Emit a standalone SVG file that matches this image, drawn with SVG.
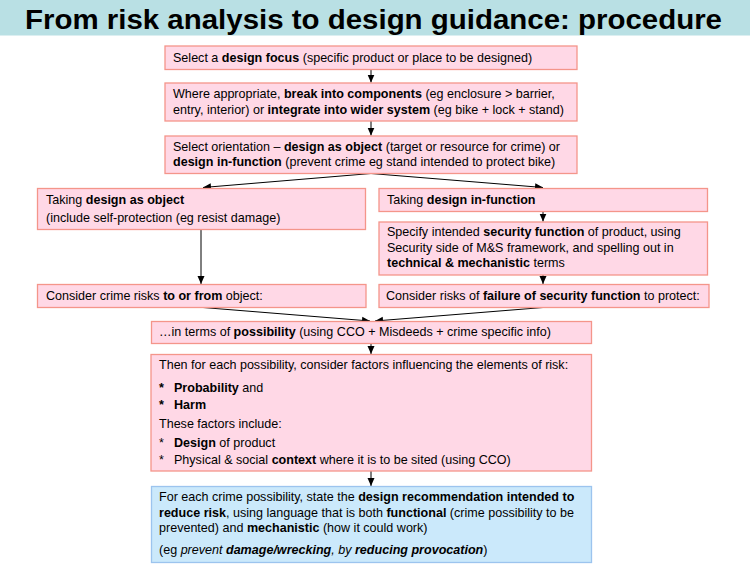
<svg xmlns="http://www.w3.org/2000/svg" width="750" height="566" viewBox="0 0 750 566">
<defs>
<marker id="ah" markerUnits="userSpaceOnUse" markerWidth="8" markerHeight="8" viewBox="0 0 8 8" refX="8" refY="4" orient="auto">
<path d="M0,0.5 L8,4 L0,7.5 z" fill="#000"/>
</marker>
<style>
text{font-family:"Liberation Sans",Arial,sans-serif;font-size:12.55px;fill:#000}
.b{font-weight:bold}
.i{font-style:italic}
.p{fill:#ffd8e6;stroke:#f4958a;stroke-width:1.3}
.bl{fill:#cbe9fb;stroke:#9cc4ee;stroke-width:1.3}
.c{fill:none;stroke:#000;stroke-width:1;marker-end:url(#ah)}
.t{font-size:28px;font-weight:bold}
</style>
</defs>
<rect width="750" height="566" fill="#fff"/>
<g id="title">
<rect x="0" y="0" width="750" height="35.5" fill="#b9e0e4"/>
<text class="t" x="25" y="28.5" textLength="697" lengthAdjust="spacingAndGlyphs">From risk analysis to design guidance: procedure</text>
</g>
<g id="connectors">
<path class="c" d="M371,69.5 L371,82.5"/>
<path class="c" d="M371,121 L371,135.5"/>
<path class="c" d="M371,173.5 L203,187.5"/>
<path class="c" d="M371,173.5 L543,187.5"/>
<path class="c" d="M543,211.5 L543,221.5"/>
<path class="c" d="M201,229.5 L201,284"/>
<path class="c" d="M543,275 L543,284"/>
<path class="c" d="M203,307.5 L370,321"/>
<path class="c" d="M543,307.5 L375,321"/>
<path class="c" d="M371,343.5 L371,354"/>
<path class="c" d="M371,471 L371,486"/>
</g>
<g id="n1">
<rect class="p" x="165" y="46" width="412" height="23.5"/>
<text x="173" y="61.5">Select a <tspan class="b">design focus</tspan> (specific product or place to be designed)</text>
</g>
<g id="n2">
<rect class="p" x="165" y="83" width="412" height="38"/>
<text x="173" y="98">Where appropriate, <tspan class="b">break into components</tspan> (eg enclosure &gt; barrier,</text>
<text x="173" y="113.5">entry, interior) or <tspan class="b">integrate into wider system</tspan> (eg bike + lock + stand)</text>
</g>
<g id="n3">
<rect class="p" x="165" y="136" width="412" height="37.5"/>
<text x="173" y="151">Select orientation – <tspan class="b">design as object</tspan> (target or resource for crime) or</text>
<text x="173" y="166"><tspan class="b">design in-function</tspan> (prevent crime eg stand intended to protect bike)</text>
</g>
<g id="n4">
<rect class="p" x="37.5" y="188.5" width="328" height="41"/>
<text x="46" y="204">Taking <tspan class="b">design as object</tspan></text>
<text x="46" y="222">(include self-protection (eg resist damage)</text>
</g>
<g id="n5">
<rect class="p" x="379" y="188.5" width="328.5" height="23"/>
<text x="387" y="204">Taking <tspan class="b">design in-function</tspan></text>
</g>
<g id="n6">
<rect class="p" x="379" y="222" width="328.5" height="53"/>
<text x="387" y="236">Specify intended <tspan class="b">security function</tspan> of product, using</text>
<text x="387" y="251.5">Security side of M&amp;S framework, and spelling out in</text>
<text x="387" y="267"><tspan class="b">technical &amp; mechanistic</tspan> terms</text>
</g>
<g id="n7">
<rect class="p" x="37.5" y="284.5" width="328.5" height="23"/>
<text x="46" y="300">Consider crime risks <tspan class="b">to or from</tspan> object:</text>
</g>
<g id="n8">
<rect class="p" x="379" y="284.5" width="330" height="23"/>
<text x="386" y="300">Consider risks of <tspan class="b">failure of security function</tspan> to protect:</text>
</g>
<g id="n9">
<rect class="p" x="151.5" y="321.5" width="440" height="22"/>
<text x="159" y="336">…in terms of <tspan class="b">possibility</tspan> (using CCO + Misdeeds + crime specific info)</text>
</g>
<g id="n10">
<rect class="p" x="151" y="354.5" width="440.5" height="116.5"/>
<text x="159" y="368.5">Then for each possibility, consider factors influencing the elements of risk:</text>
<text x="159" y="391.5" class="b">*</text><text x="174" y="391.5"><tspan class="b">Probability</tspan> and</text>
<text x="159" y="409" class="b">*</text><text x="174" y="409" class="b">Harm</text>
<text x="159" y="428">These factors include:</text>
<text x="159" y="446.5">*</text><text x="174" y="446.5"><tspan class="b">Design</tspan> of product</text>
<text x="159" y="464">*</text><text x="174" y="464">Physical &amp; social <tspan class="b">context</tspan> where it is to be sited (using CCO)</text>
</g>
<g id="n11">
<rect class="bl" x="151.5" y="486.5" width="440" height="76"/>
<text x="159" y="501">For each crime possibility, state the <tspan class="b">design recommendation intended to</tspan></text>
<text x="159" y="516.5"><tspan class="b">reduce risk</tspan>, using language that is both <tspan class="b">functional</tspan> (crime possibility to be</text>
<text x="159" y="531.5">prevented) and <tspan class="b">mechanistic</tspan> (how it could work)</text>
<text x="159" y="554">(eg <tspan class="i">prevent </tspan><tspan class="b i">damage/wrecking</tspan><tspan class="i">, by </tspan><tspan class="b i">reducing provocation</tspan>)</text>
</g>
</svg>
